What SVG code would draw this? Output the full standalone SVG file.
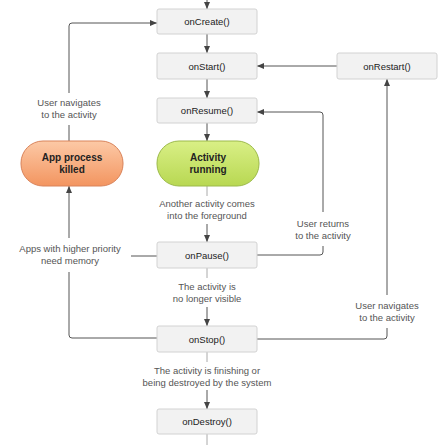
<svg xmlns="http://www.w3.org/2000/svg" width="445" height="445" viewBox="0 0 445 445">
<defs>
<marker id="ah" markerWidth="7" markerHeight="6" refX="7" refY="3" orient="auto" markerUnits="userSpaceOnUse">
<path d="M0,0 L7,3 L0,6 z" fill="#444"/>
</marker>
<linearGradient id="gOr" x1="0" y1="0" x2="0" y2="1">
<stop offset="0" stop-color="#fcc9a6"/>
<stop offset="1" stop-color="#f39560"/>
</linearGradient>
<linearGradient id="gGr" x1="0" y1="0" x2="0" y2="1">
<stop offset="0" stop-color="#d9ef86"/>
<stop offset="1" stop-color="#b8d852"/>
</linearGradient>
<style>
.box{fill:#f2f2f2;stroke:#d2d2d2;stroke-width:1}
.nt{font-family:"Liberation Sans",Arial,sans-serif;font-size:9.5px;fill:#222;text-anchor:middle}
.pt{font-family:"Liberation Sans",Arial,sans-serif;font-size:10px;font-weight:bold;fill:#222;text-anchor:middle}
.at{font-family:"Liberation Sans",Arial,sans-serif;font-size:9.5px;fill:#555;text-anchor:middle}
.ln{fill:none;stroke:#555;stroke-width:1}
.lt{fill:none;stroke:#aaa;stroke-width:1}
.ar{fill:none;stroke:#555;stroke-width:1;marker-end:url(#ah)}
</style>
</defs>
<rect width="445" height="445" fill="#fff"/>
<g id="connectors">
<path class="ar" d="M207,0 V9"/>
<path class="ar" d="M207,34 V53"/>
<path class="ar" d="M207,79 V98"/>
<path class="ar" d="M207,123 V141"/>
<path class="lt" d="M207,186 V196"/>
<path class="ar" d="M207,224 V242"/>
<path class="lt" d="M207,268 V278"/>
<path class="ar" d="M207,307 V326"/>
<path class="lt" d="M207,352 V362"/>
<path class="ar" d="M207,390 V409"/>
<path class="lt" d="M207,434 V445"/>
<path class="ar" d="M69,93 V26 Q69,23 72,23 H157"/>
<path class="ln" d="M69,125 V141"/>
<path class="ln" d="M157,338 H72 Q69,338 69,335 V272"/>
<path class="ar" d="M69,238 V186"/>
<path class="ln" d="M131,256 H157"/>
<path class="ar" d="M337,66 H257"/>
<path class="ln" d="M257,339 H384 Q387,339 387,336 V328"/>
<path class="ar" d="M387,295 V79"/>
<path class="ln" d="M257,255 H320 Q323,255 323,252 V246"/>
<path class="ar" d="M323,212 V115 Q323,112 320,112 H257"/>
</g>
<g id="labels">
<text class="at" x="69" y="106">User navigates</text>
<text class="at" x="69" y="118">to the activity</text>
<text class="at" x="70" y="252">Apps with higher priority</text>
<text class="at" x="70" y="264">need memory</text>
<text class="at" x="207" y="207">Another activity comes</text>
<text class="at" x="207" y="219">into the foreground</text>
<text class="at" x="207" y="290">The activity is</text>
<text class="at" x="207" y="302">no longer visible</text>
<text class="at" x="207" y="374">The activity is finishing or</text>
<text class="at" x="207" y="386">being destroyed by the system</text>
<text class="at" x="323" y="227">User returns</text>
<text class="at" x="323" y="239">to the activity</text>
<text class="at" x="387" y="309">User navigates</text>
<text class="at" x="387" y="321">to the activity</text>
</g>
<g id="onCreate"><rect class="box" x="157" y="9" width="100" height="25" rx="2"/><text class="nt" x="207" y="25">onCreate()</text></g>
<g id="onStart"><rect class="box" x="157" y="53" width="100" height="26" rx="2"/><text class="nt" x="207" y="69.5">onStart()</text></g>
<g id="onRestart"><rect class="box" x="337" y="53" width="100" height="26" rx="2"/><text class="nt" x="387" y="69.5">onRestart()</text></g>
<g id="onResume"><rect class="box" x="157" y="98" width="100" height="25" rx="2"/><text class="nt" x="207" y="114">onResume()</text></g>
<g id="activityRunning"><rect x="157" y="141" width="102" height="45" rx="22" fill="url(#gGr)" stroke="#9cba4a"/><text class="pt" x="208" y="161">Activity</text><text class="pt" x="208" y="173">running</text></g>
<g id="appKilled"><rect x="21" y="141" width="102" height="45" rx="22" fill="url(#gOr)" stroke="#d9835a"/><text class="pt" x="72" y="161">App process</text><text class="pt" x="72" y="173">killed</text></g>
<g id="onPause"><rect class="box" x="157" y="242" width="100" height="26" rx="2"/><text class="nt" x="207" y="258.5">onPause()</text></g>
<g id="onStop"><rect class="box" x="157" y="326" width="100" height="26" rx="2"/><text class="nt" x="207" y="342.5">onStop()</text></g>
<g id="onDestroy"><rect class="box" x="157" y="409" width="100" height="25" rx="2"/><text class="nt" x="207" y="425">onDestroy()</text></g>
</svg>
